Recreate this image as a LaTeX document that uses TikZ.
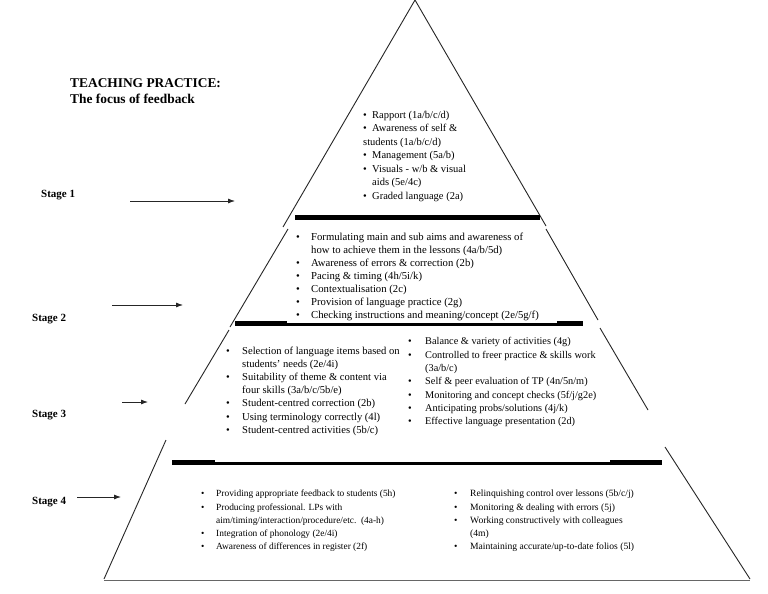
\documentclass[tikz,border=0pt]{standalone}
\usepackage{fontspec}
\setmainfont{Liberation Serif}
\usetikzlibrary{arrows.meta}
\newcommand\itm[2]{\makebox[#1][l]{\textbullet}#2}
\newcommand\cnt[2]{\hspace*{#1}#2}
\begin{document}
\begin{tikzpicture}[x=1pt,y=-1pt,
 edge/.style={line width=0.9pt, black!85},
 lbl/.style={font=\fontsize{11}{13}\selectfont\bfseries, anchor=base west, inner sep=0},
 ttl/.style={font=\fontsize{13.4}{15}\selectfont\bfseries, anchor=base west, inner sep=0},
 arr/.style={line width=0.8pt, black!85, -{Latex[length=7pt,width=5pt]}},
 lst/.style={anchor=north west, inner sep=0, align=left}]
\useasboundingbox (0,0) rectangle (768,594);
\fill[white] (0,0) rectangle (768,594);
% pyramid outline
\draw[edge] (283,227) -- (415,0) -- (546,226);
\draw[edge] (288,229) -- (230,327);
\draw[edge] (546,229) -- (598,320);
\draw[edge] (229,330) -- (185,404);
\draw[edge] (600,328) -- (648,410);
\draw[edge] (166,440) -- (104,579);
\draw[edge] (665,447) -- (750,579);
\draw[edge, black!60] (104,580) -- (750,580);
% bars
\fill (295,215) rectangle (540,220);
\fill (235,321) rectangle (287,325.5);
\fill (287,322.5) rectangle (557,325.5);
\fill (557,321) rectangle (583,325.5);
\fill (172,460) rectangle (215,465);
\fill (215,462) rectangle (610,465);
\fill (610,460) rectangle (662,465);
% title
\node[ttl] (t1) at (70,87) {TEACHING PRACTICE:};
\node[ttl] (t2) at (70,103) {The focus of feedback};
% stage labels
\node[lbl] (s1) at (41,197) {Stage 1};
\node[lbl] (s2) at (32,321) {Stage 2};
\node[lbl] (s3) at (32,417) {Stage 3};
\node[lbl] (s4) at (32,504) {Stage 4};
% arrows
\coordinate (a1s) at (130,201); \coordinate (a1e) at (235,201);
\coordinate (a2s) at (112,305); \coordinate (a2e) at (183,305);
\coordinate (a3s) at (122,402); \coordinate (a3e) at (148,402);
\coordinate (a4s) at (77,497);  \coordinate (a4e) at (121,497);
\draw[arr] (a1s) -- (a1e);
\draw[arr] (a2s) -- (a2e);
\draw[arr] (a3s) -- (a3e);
\draw[arr] (a4s) -- (a4e);
% stage 1
\node[lst, font=\fontsize{10.5}{13.5}\selectfont] (l1) at (363,111) {%
\itm{9pt}{Rapport (1a/b/c/d)}\\
\itm{9pt}{Awareness of self \&}\\
students (1a/b/c/d)\\
\itm{9pt}{Management (5a/b)}\\
\itm{9pt}{Visuals - w/b \& visual}\\
\cnt{9pt}{aids (5e/4c)}\\
\itm{9pt}{Graded language (2a)}};
% stage 2
\node[lst, font=\fontsize{10.7}{13}\selectfont] (l2) at (296,233) {%
\itm{15pt}{Formulating main and sub aims and awareness of}\\
\cnt{15pt}{how to achieve them in the lessons (4a/b/5d)}\\
\itm{15pt}{Awareness of errors \& correction (2b)}\\
\itm{15pt}{Pacing \& timing (4h/5i/k)}\\
\itm{15pt}{Contextualisation (2c)}\\
\itm{15pt}{Provision of language practice (2g)}\\
\itm{15pt}{Checking instructions and meaning/concept (2e/5g/f)}};
% stage 3 left
\node[lst, font=\fontsize{10.6}{13.2}\selectfont] (l3a) at (226,346.5) {%
\itm{16pt}{Selection of language items based on}\\
\cnt{16pt}{students' needs (2e/4i)}\\
\itm{16pt}{Suitability of theme \& content via}\\
\cnt{16pt}{four skills (3a/b/c/5b/e)}\\
\itm{16pt}{Student-centred correction (2b)}\\
\itm{16pt}{Using terminology correctly (4l)}\\
\itm{16pt}{Student-centred activities (5b/c)}};
% stage 3 right
\node[lst, font=\fontsize{10.3}{13.3}\selectfont] (l3b) at (408,337.5) {%
\itm{17pt}{Balance \& variety of activities (4g)}\\
\itm{17pt}{Controlled to freer practice \& skills work}\\
\cnt{17pt}{(3a/b/c)}\\
\itm{17pt}{Self \& peer evaluation of TP (4n/5n/m)}\\
\itm{17pt}{Monitoring and concept checks (5f/j/g2e)}\\
\itm{17pt}{Anticipating probs/solutions (4j/k)}\\
\itm{17pt}{Effective language presentation (2d)}};
% stage 4 left
\node[lst, font=\fontsize{9.4}{13.2}\selectfont] (l4a) at (201,490) {%
\itm{15pt}{Providing appropriate feedback to students (5h)}\\
\itm{15pt}{Producing professional. LPs with}\\
\cnt{15pt}{aim/timing/interaction/procedure/etc.\ \ (4a-h)}\\
\itm{15pt}{Integration of phonology (2e/4i)}\\
\itm{15pt}{Awareness of differences in register (2f)}};
% stage 4 right
\node[lst, font=\fontsize{9.6}{13.2}\selectfont] (l4b) at (454,490) {%
\itm{16pt}{Relinquishing control over lessons (5b/c/j)}\\
\itm{16pt}{Monitoring \& dealing with errors (5j)}\\
\itm{16pt}{Working constructively with colleagues}\\
\cnt{16pt}{(4m)}\\
\itm{16pt}{Maintaining accurate/up-to-date folios (5l)}};
\end{tikzpicture}
\end{document}
